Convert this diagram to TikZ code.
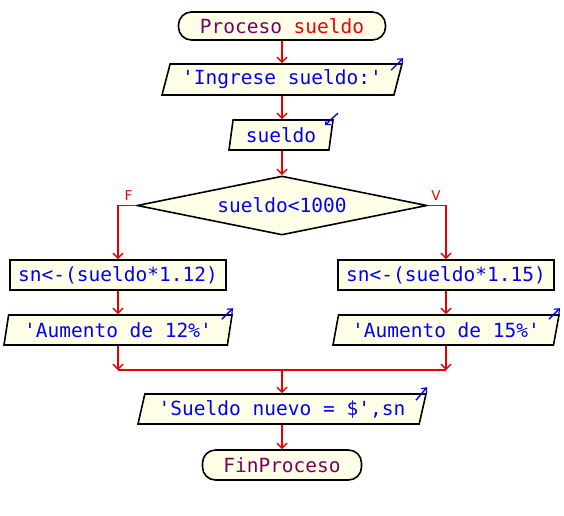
\documentclass[tikz,border=0pt]{standalone}
\usepackage{fontspec}
\newfontfamily\pmono{DejaVu Sans Mono}
\newfontfamily\psans{DejaVu Sans}
\usetikzlibrary{shapes.geometric,arrows.meta,calc}
\definecolor{shapefill}{RGB}{255,255,232}
\definecolor{flowred}{RGB}{235,0,0}
\definecolor{txtblue}{RGB}{0,0,245}
\definecolor{txtpurple}{RGB}{120,0,100}
\definecolor{txtred}{RGB}{240,0,0}
\begin{document}
\begin{tikzpicture}[x=1pt,y=-1pt,
  base/.style={draw=black,line width=1.6pt,fill=shapefill,inner sep=0pt,
    font=\pmono\fontsize{19.5}{20}\selectfont,text=txtblue},
  term/.style={base,rectangle,rounded corners=13pt,text=txtpurple},
  proc/.style={base,rectangle},
  io/.style={base,trapezium,trapezium stretches body},
  dec/.style={base,diamond},
  flow/.style={draw=flowred,line width=1.6pt,-{Straight Barb[length=5pt,width=10pt,line width=1.4pt]}},
  plain/.style={draw=flowred,line width=1.6pt},
  iomark/.style={draw=txtblue,line width=1.4pt,-{Straight Barb[length=4pt,width=7pt,line width=1.2pt]}},
  lbl/.style={text=txtred,font=\psans\fontsize{13.5}{14}\selectfont,inner sep=0pt}]
\useasboundingbox (0,0) rectangle (564,515);

\node[term,minimum width=207pt,minimum height=28pt] (start) at (282,26) {Proceso \textcolor{txtred}{sueldo}};
\node[io,minimum width=240pt,minimum height=31pt,trapezium left angle=67,trapezium right angle=113] (in1) at (282,79.5) {'Ingrese sueldo:'};
\node[io,minimum width=104pt,minimum height=30pt,trapezium left angle=75,trapezium right angle=105] (in2) at (281,135) {sueldo};
\node[dec,minimum width=290pt,minimum height=59pt,shape aspect=4.9] (dec) at (282,205.5) {sueldo<1000};
\node[proc,minimum width=216pt,minimum height=30pt] (boxL) at (118,275) {sn<-(sueldo*1.12)};
\node[proc,minimum width=216pt,minimum height=30pt] (boxR) at (446,275) {sn<-(sueldo*1.15)};
\node[io,minimum width=228pt,minimum height=30pt,trapezium left angle=73,trapezium right angle=107] (outL) at (118,330) {'Aumento de 12\%'};
\node[io,minimum width=226pt,minimum height=30pt,trapezium left angle=70,trapezium right angle=110] (outR) at (446,330) {'Aumento de 15\%'};
\node[io,minimum width=288pt,minimum height=30pt,trapezium left angle=69,trapezium right angle=111] (final) at (282,409) {'Sueldo nuevo = \$',sn};
\node[term,minimum width=159pt,minimum height=30pt] (fin) at (282,465) {FinProceso};

\node[lbl] (lf) at (128.5,196) {F};
\node[lbl] (lv) at (436,196) {V};

\coordinate (joinL) at (118,370);
\coordinate (joinR) at (446,370);
\coordinate (join) at (282,370);

\draw[flow] (start.south) -- (in1.north);
\draw[flow] (in1.south) -- (in2.north -| in1.south);
\draw[flow] (in2.south -| dec.north) -- (dec.north);
\draw[flow] (dec.west) -| (boxL.north);
\draw[flow] (dec.east) -| (boxR.north);
\draw[flow] (boxL.south) -- (outL.north -| boxL.south);
\draw[flow] (boxR.south) -- (outR.north -| boxR.south);
\draw[flow] (outL.south -| boxL.south) -- (joinL);
\draw[flow] (outR.south -| boxR.south) -- (joinR);
\draw[plain] (joinL) -- (joinR);
\draw[flow] (join) -- (final.north);
\draw[flow] (final.south) -- (fin.north);

\draw[iomark] ($(in1.top right corner)+(-12,7)$) -- ($(in1.top right corner)+(0,-5)$);
\draw[iomark] ($(in2.top right corner)+(4,-6)$) -- ($(in2.top right corner)+(-9,6)$);
\draw[iomark] ($(outL.top right corner)+(-11,5)$) -- ($(outL.top right corner)+(0,-6)$);
\draw[iomark] ($(outR.top right corner)+(-11,5)$) -- ($(outR.top right corner)+(0,-6)$);
\draw[iomark] ($(final.top right corner)+(-11,7)$) -- ($(final.top right corner)+(0,-6)$);
\end{tikzpicture}
\end{document}
